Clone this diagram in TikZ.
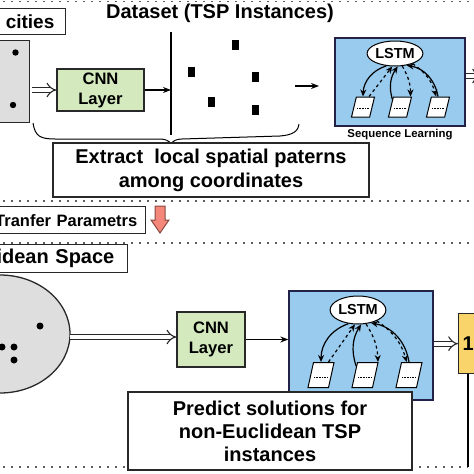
\documentclass[tikz,border=0pt]{standalone}
\usepackage{fontspec}
\setmainfont{Liberation Sans}
\usetikzlibrary{arrows.meta,shapes.geometric}
\definecolor{cnngreen}{RGB}{212,234,190}
\definecolor{seqblue}{RGB}{152,203,238}
\definecolor{ptsgray}{RGB}{222,222,222}
\definecolor{outyellow}{RGB}{249,212,106}
\definecolor{tfred}{RGB}{244,134,122}
\definecolor{edge}{RGB}{40,40,40}
\tikzset{
  box/.style={draw=edge, line width=1.3pt, fill=white, inner sep=0pt},
  big/.style={font=\bfseries\fontsize{20}{24}\selectfont},
  cnn/.style={box, fill=cnngreen, align=center, font=\bfseries\fontsize{16.6}{20}\selectfont},
  seq/.style={draw=edge!85!blue, line width=1.3pt, fill=seqblue},
  lstm/.style={ellipse, draw=black, line width=1pt, fill=white, inner sep=0pt, font=\bfseries\fontsize{14.5}{16}\selectfont},
  cell/.style={trapezium, trapezium left angle=70, trapezium right angle=110, trapezium stretches=true, draw=black, line width=1pt, fill=white, inner sep=2pt},
  ln/.style={line width=1.2pt, -{Stealth[length=7pt,width=6pt]}},
  hollow/.style={draw=edge, line width=1.1pt, double=white, double distance=4pt, -{Implies}},
  sep/.style={draw=edge!75, line width=1.5pt, dash pattern=on 1.8pt off 6.2pt},
}
\begin{document}
\begin{tikzpicture}[x=1pt, y=-1pt, >={Stealth[length=8pt,width=6pt]}, line width=1.2pt]
\useasboundingbox (0,0) rectangle (474,474);
\clip (0,0) rectangle (474,474);
\draw[sep] (-5,1.5) -- (480,1.5);
\draw[sep] (-5,201) -- (480,201);
\draw[sep] (-5,243) -- (480,243);
\draw[sep] (-5,467) -- (468,467);

\begin{scope}
    \node[big, anchor=base] (title) at (220,18) {Dataset (TSP Instances)};
    \node[box, anchor=north east, minimum height=26pt, text width=60pt, inner xsep=11pt, align=right,
        font=\bfseries\fontsize{19}{22}\selectfont] (cities) at (66,8) {cities};
    \node[box, fill=ptsgray, anchor=north east, minimum width=50pt, minimum height=82pt] (ptsA) at (30,40) {};
    \fill (15.5,52.5) circle (3.2) (13,105) circle (3.2);
    \node[cnn, minimum width=87pt, minimum height=42pt] (cnnA) at (100.5,90) {CNN\\Layer};
    \draw[hollow] ([xshift=2pt]ptsA.east |- cnnA.west) -- (cnnA.west);
    \coordinate (fmtop) at (171,32);
    \coordinate (fmbot) at (171,135);
    \draw (fmtop) -- (fmbot);
    \draw[->] (cnnA.east) -- (cnnA.east -| fmtop);
    \foreach \x/\y in {235/45, 191/72, 255/77, 211/102, 255/110}
        \fill (\x-3.5,\y-5) rectangle +(7,10);
    \coordinate (fmout) at (295,86);
    \coordinate (seqin) at (319,86);
    \draw[->] (fmout) -- (seqin);

    \node[seq, minimum width=130pt, minimum height=88pt] (seqA) at (400,82) {};
    \node[lstm, minimum width=42pt, minimum height=25pt] (lstmA) at (395,53.5) {LSTM};
    \foreach \i/\x in {1/363, 2/400, 3/438} {
        \node[cell, minimum width=23pt, minimum height=20pt] (cA\i) at (\x,107) {};
        \draw[densely dotted, line width=0.6pt] ([xshift=-6pt,yshift=-1pt]cA\i.center) -- ([xshift=6pt,yshift=-1pt]cA\i.center);
    }
    \draw[ln] (lstmA.235) to[bend right=35] (cA1.north);
    \draw[ln, dashed] (cA1.60) -- (lstmA.258);
    \draw[ln] (cA2.north west) to[bend left=25] (lstmA.282);
    \draw[ln, dashed] (lstmA.300) to[bend left=15] (cA2.north east);
    \draw[ln] (cA3.north) to[bend right=35] (lstmA.315);
    \draw[ln, dashed] (lstmA.330) to[bend left=20] (cA3.100);
    \node[font=\bfseries\fontsize{11.4}{13}\selectfont, anchor=base] (seqlbl) at (400,137) {Sequence Learning};
    \coordinate (offA) at (482,76);
    \draw[hollow] (seqA.east |- offA) -- (offA);

    \draw[line width=1pt] (33,123) .. controls (35,136) and (40,139) .. (55,139) -- (160,139)
        .. controls (166,139) and (169,141) .. (171,144) .. controls (173,141) and (176,139) .. (182,139)
        -- (280,136) .. controls (292,135) and (298,132) .. (299,124);
    \node[box, big, minimum width=316pt, minimum height=54pt, align=center] (extract) at (211,170)
        {Extract\ \ local spatial paterns\\among coordinates};
\end{scope}

\node[box, anchor=north east, minimum height=27pt, text width=150pt, inner xsep=8pt, align=right,
    font=\bfseries\fontsize{16.5}{20}\selectfont] (tfbox) at (146,206) {Tranfer Parametrs};
\draw[draw=tfred!55!black, line width=1pt, fill=tfred] (155,206) -- (165,206) -- (165,220) -- (169,220)
    -- (160,233) -- (151,220) -- (155,220) -- cycle;

\begin{scope}
    \node[box, big, anchor=north east, minimum height=28pt, text width=130pt, inner xsep=13pt, align=right] (spbox) at (128,244) {idean Space};
    \draw[draw=edge, line width=1.3pt, fill=ptsgray] (0,334) ellipse (70 and 59);
    \foreach \x/\y in {40/326, 2/347, 14/347, 14/360}
        \fill (\x,\y) circle (3.5);
    \coordinate (ptsB) at (70,337);
    \node[cnn, minimum width=68pt, minimum height=55pt] (cnnB) at (211,339.5) {CNN\\Layer};
    \draw[hollow] (ptsB) -- (ptsB -| cnnB.west);
    \node[seq, minimum width=144pt, minimum height=109pt] (seqB) at (361,345.5) {};
    \draw[->] (cnnB.east) -- (cnnB.east -| seqB.west);
    \node[lstm, minimum width=50pt, minimum height=28pt] (lstmB) at (358,310) {LSTM};
    \foreach \i/\x in {1/321, 2/365, 3/409} {
        \node[cell, minimum width=26pt, minimum height=25pt] (cB\i) at (\x,375) {};
        \draw[densely dotted, line width=0.6pt] ([xshift=-7pt,yshift=-2pt]cB\i.center) -- ([xshift=7pt,yshift=-2pt]cB\i.center);
    }
    \draw[ln] (lstmB.235) to[bend right=35] (cB1.north);
    \draw[ln, dashed] (cB1.60) -- (lstmB.258);
    \draw[ln] (cB2.north west) to[bend left=25] (lstmB.282);
    \draw[ln, dashed] (lstmB.300) to[bend left=15] (cB2.north east);
    \draw[ln] (cB3.north) to[bend right=35] (lstmB.315);
    \draw[ln, dashed] (lstmB.330) to[bend left=20] (cB3.100);
    \node[box, fill=outyellow, anchor=north west, minimum height=60pt, text width=34pt, inner xsep=4pt, align=left, big] (outB) at (458,313) {1};
    \draw[hollow] (seqB.east |- outB.west) -- (outB.west);
    \coordinate (fbend) at (468,467);
    \draw ([xshift=10pt]outB.south west) -- (fbend);
    \node[box, minimum width=284pt, minimum height=78pt, align=center, font=\bfseries\fontsize{20}{23}\selectfont] (predict) at (270,431)
        {Predict solutions for\\non-Euclidean TSP\\instances};
\end{scope}
\end{tikzpicture}
\end{document}
